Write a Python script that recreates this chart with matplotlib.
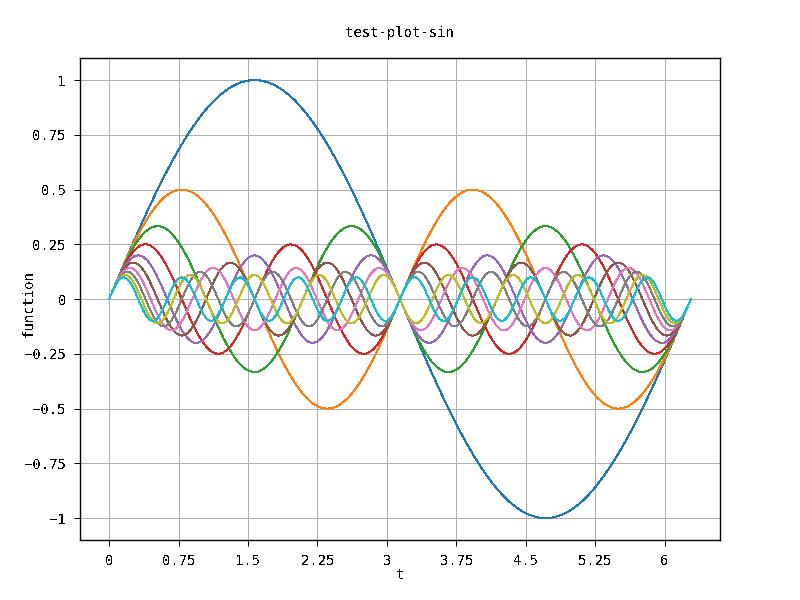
import numpy as np
import matplotlib
matplotlib.use("Agg")
import matplotlib.pyplot as plt

# harmonics drawn in the reference: frequency and peak height of each curve
frequencies = [1, 2, 3, 4, 5, 6, 7, 8, 9, 10]
amplitudes = [1.0, 0.5, 0.333, 0.25, 0.2, 0.167, 0.143, 0.125, 0.111, 0.1]
t_start, t_end, n_samples = 0.0, 2 * np.pi, 200

x_ticks = [0, 0.75, 1.5, 2.25, 3, 3.75, 4.5, 5.25, 6]
x_tick_labels = ["0", "0.75", "1.5", "2.25", "3", "3.75", "4.5", "5.25", "6"]
y_ticks = [-1, -0.75, -0.5, -0.25, 0, 0.25, 0.5, 0.75, 1]
y_tick_labels = ["\u22121", "\u22120.75", "\u22120.5", "\u22120.25", "0", "0.25", "0.5", "0.75", "1"]

plt.rcParams["font.family"] = ["DejaVu Sans Mono"]
plt.rcParams["text.antialiased"] = False
plt.rcParams["lines.antialiased"] = False
plt.rcParams["axes.linewidth"] = 1.0

fig, ax = plt.subplots(figsize=(8, 6), dpi=100)
fig.subplots_adjust(left=0.1, right=0.9, bottom=0.1, top=0.903)

t = np.linspace(t_start, t_end, n_samples)
for f, a in zip(frequencies, amplitudes):
    ax.plot(t, a * np.sin(f * t), linewidth=0.72)

ax.set_xticks(x_ticks)
ax.set_xticklabels(x_tick_labels)
ax.set_yticks(y_ticks)
ax.set_yticklabels(y_tick_labels)
ax.tick_params(labelsize=10, length=4, width=0.72, pad=6)
ax.grid(True, color="#b0b0b0", linewidth=0.72)
ax.set_xlabel("t", fontsize=10, labelpad=0)
ax.set_ylabel("function", fontsize=10)
ax.yaxis.set_label_coords(-0.07, 0.49)
ax.set_title("test-plot-sin", fontsize=10, pad=15)

fig.savefig("out.png", dpi=100)
